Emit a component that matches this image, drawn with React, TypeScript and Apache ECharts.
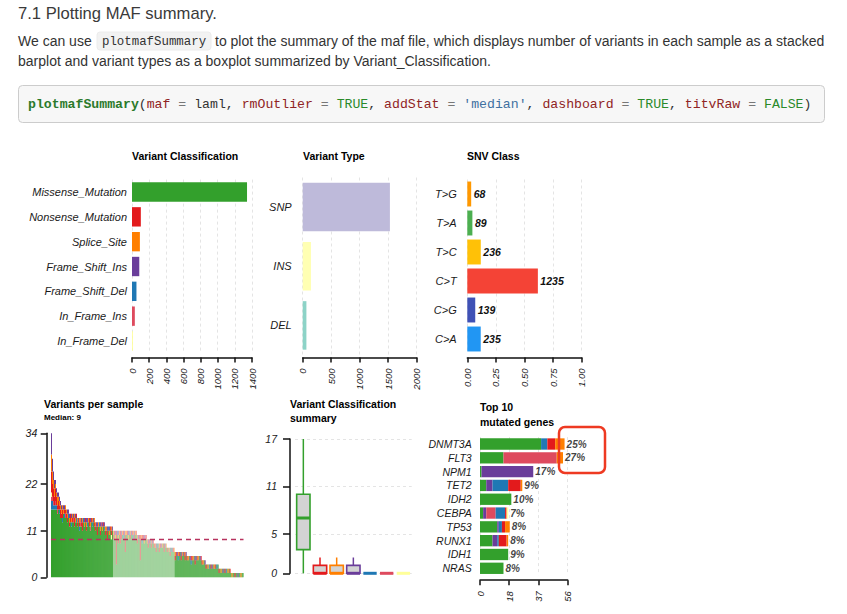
import React, { useEffect, useRef } from "react";
import * as echarts from "echarts";

const FONT = "'Liberation Sans', Arial, Helvetica, sans-serif";
const MONO = "'Liberation Mono', 'DejaVu Sans Mono', monospace";

// ---------- Variant Classification ----------
const vcClasses = [
  "Missense_Mutation",
  "Nonsense_Mutation",
  "Splice_Site",
  "Frame_Shift_Ins",
  "Frame_Shift_Del",
  "In_Frame_Ins",
  "In_Frame_Del",
];
const vcCounts = [1342, 103, 92, 85, 52, 33, 10];
const vcColors = ["#33A02C", "#E31A1C", "#FF7F00", "#6A3D9A", "#1F78B4", "#DE4A5E", "#FFFF99"];

// ---------- Variant Type ----------
const vtTypes = ["SNP", "INS", "DEL"];
const vtCounts = [1530, 145, 65];
const vtColors = ["#BEBADA", "#FFFFB3", "#8DD3C7"];

// ---------- SNV Class ----------
const snvClasses = ["T>G", "T>A", "T>C", "C>T", "C>G", "C>A"];
const snvCounts = [68, 89, 236, 1235, 139, 235];
const snvColors = ["#FF9800", "#4CAF50", "#FFC107", "#F44336", "#3F51B5", "#2196F3"];

// ---------- Variants per sample (sorted) ----------
const sampleTotals = [
  34, 28, 25, 23, 23, 21, 20, 20, 19, 18,
  17, 17, 17, 17, 17,
  16, 16, 16,
  15, 15, 15, 15, 15, 15, 15, 15,
  14, 14, 14, 14, 14, 14, 14, 14, 14, 14, 14, 14, 14, 14, 14, 14, 14, 14,
  13, 13, 13, 13, 13, 13, 13, 13, 13, 13,
  12, 12, 12, 12, 12, 12, 12, 12,
  11, 11, 11, 11, 11, 11, 11, 11, 11, 11, 11, 11, 11, 11, 11, 11, 11, 11, 11, 11, 11, 11, 11, 11,
  10, 10, 10, 10, 10, 10, 10, 10, 10, 10,
  9, 9, 9, 9, 9, 9, 9,
  8, 8, 8, 8, 8, 8, 8, 8, 8, 8, 8, 8, 8,
  7, 7, 7, 7, 7, 7, 7, 7,
  6, 6, 6, 6, 6, 6, 6, 6, 6, 6, 6, 6,
  5, 5, 5, 5, 5, 5, 5, 5, 5, 5, 5, 5, 5, 5, 5,
  4, 4, 4, 4,
  3, 3, 3, 3, 3, 3, 3, 3, 3, 3, 3, 3, 3,
  2, 2, 2, 2, 2, 2, 2, 2, 2, 2, 2, 2,
  1, 1, 1, 1, 1, 1, 1, 1, 1, 1, 1, 1, 1,
];
// non-missense variants of each sample: N Nonsense, S Splice, I FS_Ins, D FS_Del, n IF_Ins, d IF_Del
const sampleOtherVariants = [
  "NNNNNSSSSIIIIIDDnd", "NNNSSSIIIDDn", "NNNSSIIDn", "NNSSIID", "NNNSIDn", "NNSID", "NSSIn", "NNIS", "NSID", "NNSI",
  "NSI", "NNSD", "SI", "NID", "NSn",
  "NS", "NSI", "ID",
  "NSI", "NN", "SID", "NS", "In", "NNS", "SI", "ND",
  "NS", "I", "NSD", "Sn", "NI", "NNS", "D", "SI", "N", "NSI", "ID", "S", "NN", "SIn", "N", "DS", "I", "NS",
  "NS", "I", "NNI", "S", "D", "NSI", "n", "SI", "N", "ID",
  "NS", "S", "NNI", "D", "SI", "N", "NSd", "I",
  "NS", "N", "SI", "NNNNNNNN", "D", "NSI", "S", "NNN", "NI", "S", "ND", "I", "NNNNS", "S", "N", "SI", "D", "NS", "I", "N", "SD", "NI", "S", "N",
  "NS", "I", "N", "NNNNNN", "S", "DN", "N", "SI", "n", "N",
  "S", "NI", "N", "D", "NS", "I", "N",
  "N", "S", "NI", "", "D", "NS", "N", "I", "S", "", "NN", "D", "S",
  "N", "", "S", "NI", "", "D", "N", "S",
  "NS", "N", "I", "SD", "N", "", "NI", "S", "D", "N", "NS", "I",
  "N", "S", "", "I", "ND", "N", "S", "", "NI", "D", "N", "S", "", "I", "N",
  "N", "S", "", "I",
  "N", "", "S", "D", "", "N", "I", "", "S", "N", "", "D", "",
  "N", "", "S", "", "I", "", "N", "D", "", "S", "", "N",
  "", "S", "", "", "N", "", "", "I", "", "", "S", "", "",
];
const lightSampleFirst = 62;
const lightSampleLast = 123;
const medianVariants = 9;
const perSampleTicks = [0, 11, 22, 34];

// ---------- Variant Classification summary (boxplot) ----------
// [min, q1, median, q3, max]
const boxStats = [
  [0, 3, 7, 10, 17],
  [0, 0, 0, 1, 2],
  [0, 0, 0, 1, 2],
  [0, 0, 0, 1, 2],
  [0, 0, 0, 0, 0],
  [0, 0, 0, 0, 0],
  [0, 0, 0, 0, 0],
];
const boxTicks = [0, 5, 11, 17];

// ---------- Top 10 mutated genes ----------
const genes = ["DNMT3A", "FLT3", "NPM1", "TET2", "IDH2", "CEBPA", "TP53", "RUNX1", "IDH1", "NRAS"];
const geneMissense = [39, 15, 1, 4, 20, 2, 11, 8, 18, 15];
const geneFrameShiftIns = [0, 0, 33, 4, 0, 2, 1, 3, 0, 0];
const geneInFrameIns = [0, 34, 0, 0, 0, 6, 0, 0, 0, 0];
const geneFrameShiftDel = [4, 0, 0, 10, 0, 6, 2, 1, 0, 0];
const geneNonsense = [5, 0, 0, 8, 0, 1, 2, 5, 0, 0];
const geneSplice = [6, 4, 0, 1, 0, 0, 3, 1, 0, 0];
const geneInFrameDel = [0, 0, 0, 0, 0, 1, 0, 0, 0, 0];
const genePercent = ["25%", "27%", "17%", "9%", "10%", "7%", "8%", "8%", "9%", "8%"];
const geneTicks = [0, 18.67, 37.33, 56];
const geneTickLabels = ["0", "18", "37", "56"];

const codeIndex: Record<string, number> = { N: 1, S: 2, I: 3, D: 4, n: 5, d: 6 };

function buildOption() {
  const axisColor = "#111";
  const labelColor = "#1a1a1a";
  const split = { show: true, lineStyle: { color: "#e4e4e4", type: [3, 3], width: 1 } };

  const bottomValueAxis = (gridIndex: number, max: number, interval: number, fmt: (v: number) => string, offset: number) => ({
    gridIndex,
    type: "value",
    min: 0,
    max,
    interval,
    offset,
    axisLine: { show: true, lineStyle: { color: axisColor, width: 1.5 } },
    axisTick: { show: true, length: 5, lineStyle: { color: axisColor, width: 1.5 } },
    axisLabel: {
      rotate: 90,
      fontSize: 9.5,
      fontStyle: "italic",
      color: labelColor,
      fontFamily: FONT,
      margin: 11,
      formatter: fmt,
    },
    splitLine: split,
  });

  const leftCatAxis = (gridIndex: number, data: string[], margin: number, fontSize = 11) => ({
    gridIndex,
    type: "category",
    data,
    inverse: true,
    axisLine: { show: false },
    axisTick: { show: false },
    axisLabel: { interval: 0, fontSize, fontStyle: "italic", color: labelColor, fontFamily: FONT, margin },
    splitLine: { show: false },
  });

  // per-sample counts per class
  const n = sampleTotals.length;
  const perClass: number[][] = vcClasses.map(() => new Array(n).fill(0));
  for (let i = 0; i < n; i++) {
    const s = sampleOtherVariants[i] || "";
    let others = 0;
    for (const ch of s) {
      const k = codeIndex[ch];
      if (k) {
        perClass[k][i] += 1;
        others += 1;
      }
    }
    perClass[0][i] = Math.max(0, sampleTotals[i] - others);
  }
  const sampleNames = sampleTotals.map((_, i) => "S" + (i + 1));
  const stackOrder = [0, 4, 5, 6, 1, 2, 3];

  const perSampleSeries = stackOrder.map((k, j) => ({
    type: "bar",
    name: vcClasses[k],
    xAxisIndex: 3,
    yAxisIndex: 3,
    stack: "ps",
    barCategoryGap: "0%",
    itemStyle: { color: vcColors[k] },
    data: perClass[k].map((v, i) => ({
      value: v,
      itemStyle: {
        color: vcColors[k],
        opacity: i >= lightSampleFirst && i <= lightSampleLast ? 0.5 : 1,
      },
    })),
    markLine:
      j === 0
        ? {
            silent: true,
            symbol: "none",
            label: { show: false },
            lineStyle: { color: "#B7325E", type: [5, 4], width: 1.3 },
            data: [{ yAxis: medianVariants }],
          }
        : undefined,
  }));

  const geneClassSeries: [number[], number][] = [
    [geneMissense, 0],
    [geneFrameShiftIns, 3],
    [geneInFrameIns, 5],
    [geneFrameShiftDel, 4],
    [geneNonsense, 1],
    [geneSplice, 2],
    [geneInFrameDel, 6],
  ];
  const geneTotals = genes.map((_, i) => geneClassSeries.reduce((a, [arr]) => a + arr[i], 0));
  const snvTotal = snvCounts.reduce((a, b) => a + b, 0);

  const title = (text: string, x: number, y: number, size = 10.5) => ({
    type: "text",
    x,
    y,
    style: { text, fontSize: size, fontWeight: "bold", fontFamily: FONT, fill: "#000", verticalAlign: "middle" },
  });

  const code = [
    ["f", "plotmafSummary"], ["p", "("], ["a", "maf"], ["p", " "], ["e", "="], ["p", " laml, "],
    ["a", "rmOutlier"], ["p", " "], ["e", "="], ["p", " "], ["k", "TRUE"], ["p", ", "],
    ["a", "addStat"], ["p", " "], ["e", "="], ["p", " "], ["s", "'median'"], ["p", ", "],
    ["a", "dashboard"], ["p", " "], ["e", "="], ["p", " "], ["k", "TRUE"], ["p", ", "],
    ["a", "titvRaw"], ["p", " "], ["e", "="], ["p", " "], ["k", "FALSE"], ["p", ")"],
  ];
  const codeText = code.map(([s, t]) => "{" + s + "|" + t + "}").join("");

  return {
    animation: false,
    backgroundColor: "#ffffff",
    textStyle: { fontFamily: FONT },
    grid: [
      { left: 132, top: 179.6, width: 120, height: 173.8, outerBoundsMode: "none" },
      { left: 302.7, top: 177.5, width: 114, height: 177.5, outerBoundsMode: "none" },
      { left: 467.3, top: 179.5, width: 114.4, height: 174, outerBoundsMode: "none" },
      { left: 51, top: 433.3, width: 192.5, height: 144, outerBoundsMode: "none" },
      { left: 295, top: 439, width: 116.7, height: 134.3, outerBoundsMode: "none" },
      { left: 480, top: 437.1, width: 87.7, height: 138.1, outerBoundsMode: "none" },
    ],
    xAxis: [
      bottomValueAxis(0, 1400, 200, (v) => String(v), 4),
      bottomValueAxis(1, 2000, 500, (v) => String(v), 2.5),
      bottomValueAxis(2, 1, 0.25, (v) => v.toFixed(2), 4),
      { gridIndex: 3, type: "category", data: sampleNames, show: false },
      { gridIndex: 4, type: "category", data: vcClasses, show: false },
      {
        gridIndex: 5,
        type: "value",
        min: 0,
        max: 56,
        offset: 5,
        axisLine: { show: true, lineStyle: { color: axisColor, width: 1.5 } },
        axisTick: { show: true, length: 5, customValues: geneTicks, lineStyle: { color: axisColor, width: 1.5 } },
        axisLabel: {
          customValues: geneTicks,
          rotate: 90,
          fontSize: 9.5,
          fontStyle: "italic",
          color: labelColor,
          fontFamily: FONT,
          margin: 11,
          formatter: (v: number) => {
            const idx = geneTicks.findIndex((t) => Math.abs(t - v) < 0.01);
            return idx >= 0 ? geneTickLabels[idx] : String(Math.floor(v));
          },
        },
        splitLine: split,
      },
    ],
    yAxis: [
      leftCatAxis(0, vcClasses, 5),
      leftCatAxis(1, vtTypes, 11),
      leftCatAxis(2, snvClasses, 10.6),
      {
        gridIndex: 3,
        type: "value",
        min: 0,
        max: 34,
        offset: 4.3,
        axisLine: { show: true, lineStyle: { color: axisColor, width: 1.5 } },
        axisTick: { show: true, length: 6, customValues: perSampleTicks, lineStyle: { color: axisColor, width: 1.5 } },
        axisLabel: { customValues: perSampleTicks, fontSize: 10.5, fontStyle: "italic", color: labelColor, fontFamily: FONT, margin: 9.4 },
        splitLine: { show: false },
      },
      {
        gridIndex: 4,
        type: "value",
        min: 0,
        max: 17,
        offset: 5,
        axisLine: { show: true, lineStyle: { color: axisColor, width: 1.5 } },
        axisTick: { show: true, length: 7, customValues: boxTicks, lineStyle: { color: axisColor, width: 1.5 } },
        axisLabel: { customValues: boxTicks, fontSize: 10.5, fontStyle: "italic", color: labelColor, fontFamily: FONT, margin: 13 },
        splitLine: split,
      },
      leftCatAxis(5, genes, 8.3, 10.5),
    ],
    series: [
      {
        type: "bar",
        xAxisIndex: 0,
        yAxisIndex: 0,
        barWidth: "78%",
        data: vcCounts.map((v, i) => ({ value: v, itemStyle: { color: vcColors[i] } })),
      },
      {
        type: "bar",
        xAxisIndex: 1,
        yAxisIndex: 1,
        barWidth: "82%",
        data: vtCounts.map((v, i) => ({ value: v, itemStyle: { color: vtColors[i] } })),
      },
      {
        type: "bar",
        xAxisIndex: 2,
        yAxisIndex: 2,
        barWidth: "86%",
        data: snvCounts.map((v, i) => ({ value: v / snvTotal, itemStyle: { color: snvColors[i] } })),
        label: {
          show: true,
          position: "right",
          distance: 2.5,
          formatter: (p: any) => String(snvCounts[p.dataIndex]),
          fontSize: 10.5,
          fontWeight: "bold",
          fontStyle: "italic",
          color: "#111",
          fontFamily: FONT,
        },
      },
      ...perSampleSeries,
      {
        type: "custom",
        xAxisIndex: 4,
        yAxisIndex: 4,
        data: boxStats.map((s, i) => [i, ...s]),
        encode: { x: 0, y: [1, 2, 3, 4, 5] },
        renderItem: (params: any, api: any) => {
          const i = api.value(0);
          const mn = api.value(1), q1 = api.value(2), md = api.value(3), q3 = api.value(4), mx = api.value(5);
          const color = vcColors[i];
          const bw = api.size([1, 0])[0] * 0.8;
          const pMin = api.coord([i, mn]);
          const pMax = api.coord([i, mx]);
          const pQ1 = api.coord([i, q1]);
          const pQ3 = api.coord([i, q3]);
          const pMd = api.coord([i, md]);
          const cx = pMin[0];
          const children: any[] = [];
          if (mx > mn) {
            children.push({
              type: "line",
              shape: { x1: cx, y1: pMin[1], x2: cx, y2: pMax[1] },
              style: { stroke: color, lineWidth: 1.5 },
            });
          }
          if (q3 > q1) {
            children.push({
              type: "rect",
              shape: { x: cx - bw / 2, y: pQ3[1], width: bw, height: pQ1[1] - pQ3[1] },
              style: { fill: "#D3D3D3", stroke: color, lineWidth: 1.6 },
            });
          }
          children.push({
            type: "line",
            shape: { x1: cx - bw / 2, y1: pMd[1], x2: cx + bw / 2, y2: pMd[1] },
            style: { stroke: color, lineWidth: 3 },
          });
          return { type: "group", children };
        },
      },
      ...geneClassSeries.map(([arr, k]) => ({
        type: "bar",
        name: vcClasses[k],
        xAxisIndex: 5,
        yAxisIndex: 5,
        stack: "genes",
        barWidth: "82%",
        itemStyle: { color: vcColors[k] },
        data: arr,
      })),
      {
        type: "scatter",
        xAxisIndex: 5,
        yAxisIndex: 5,
        symbolSize: 0.1,
        itemStyle: { color: "rgba(0,0,0,0)" },
        data: genes.map((_, i) => [geneTotals[i], i]),
        label: {
          show: true,
          position: "right",
          distance: 2,
          formatter: (p: any) => genePercent[p.dataIndex],
          fontSize: 10,
          fontWeight: "bold",
          fontStyle: "italic",
          color: "#111",
          fontFamily: FONT,
        },
      },
    ],
    graphic: [
      {
        type: "text",
        x: 18,
        y: 13,
        style: { text: "7.1 Plotting MAF summary.", fontSize: 16.6, fontFamily: FONT, fill: "#3a3a3a", verticalAlign: "middle" },
      },
      {
        type: "text",
        x: 18,
        y: 41,
        style: { text: "We can use", fontSize: 14, fontFamily: FONT, fill: "#333", verticalAlign: "middle" },
      },
      {
        type: "rect",
        shape: { x: 97, y: 32, width: 114, height: 18, r: 3 },
        style: { fill: "#f2f2f2", stroke: "#ececec", lineWidth: 1 },
      },
      {
        type: "text",
        x: 102,
        y: 41.5,
        style: { text: "plotmafSummary", fontSize: 12.4, fontFamily: MONO, fill: "#333", verticalAlign: "middle" },
      },
      {
        type: "text",
        x: 215,
        y: 41,
        style: {
          text: "to plot the summary of the maf file, which displays number of variants in each sample as a stacked",
          fontSize: 14,
          fontFamily: FONT,
          fill: "#333",
          verticalAlign: "middle",
        },
      },
      {
        type: "text",
        x: 18,
        y: 61,
        style: {
          text: "barplot and variant types as a boxplot summarized by Variant_Classification.",
          fontSize: 14,
          fontFamily: FONT,
          fill: "#333",
          verticalAlign: "middle",
        },
      },
      {
        type: "rect",
        shape: { x: 18.5, y: 85.5, width: 806, height: 37, r: 4 },
        style: { fill: "#f7f7f7", stroke: "#cccccc", lineWidth: 1 },
      },
      {
        type: "text",
        x: 28,
        y: 104,
        style: {
          text: codeText,
          fontSize: 13.2,
          fontFamily: MONO,
          verticalAlign: "middle",
          rich: {
            f: { fontFamily: MONO, fontSize: 13.2, fontWeight: "bold", fill: "#2B7A2B" },
            p: { fontFamily: MONO, fontSize: 13.2, fill: "#333333" },
            a: { fontFamily: MONO, fontSize: 13.2, fill: "#902424" },
            e: { fontFamily: MONO, fontSize: 13.2, fill: "#777777" },
            k: { fontFamily: MONO, fontSize: 13.2, fill: "#2A8A2A" },
            s: { fontFamily: MONO, fontSize: 13.2, fill: "#4070A0" },
          },
        },
      },
      title("Variant Classification", 132, 156),
      title("Variant Type", 303, 156),
      title("SNV Class", 467, 156),
      title("Variants per sample", 44, 404.3),
      title("Median: 9", 44, 417.7, 8),
      title("Variant Classification", 290, 404.3),
      title("summary", 290, 417.7),
      title("Top 10", 480, 407.3),
      title("mutated genes", 480, 421.7),
      {
        type: "rect",
        shape: { x: 559, y: 427, width: 46, height: 46, r: 6 },
        style: { fill: "none", stroke: "#EE3A22", lineWidth: 2.5 },
        z: 100,
      },
    ],
  };
}

export default function App() {
  const ref = useRef<HTMLDivElement>(null);
  useEffect(() => {
    document.body.style.margin = "0";
    const chart = echarts.init(ref.current as HTMLDivElement, null, { renderer: "svg" });
    chart.setOption(buildOption() as any);
    return () => chart.dispose();
  }, []);
  return <div ref={ref} style={{ width: 847, height: 614, background: "#fff" }} />;
}
